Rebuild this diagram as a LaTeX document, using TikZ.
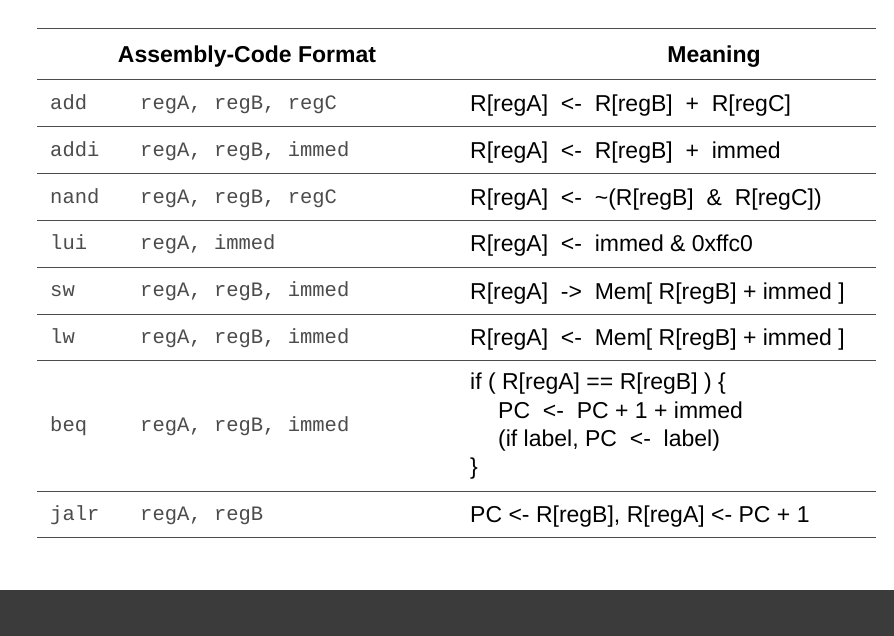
\documentclass[tikz,border=0pt]{standalone}
\usepackage{fontspec}
\setmainfont{Liberation Sans}
\setmonofont{Liberation Mono}
\begin{document}
\begin{tikzpicture}[x=1pt,y=-1pt,
  mono/.style={anchor=base west,font=\fontsize{20.5}{24}\ttfamily,text=black!70,inner sep=0},
  mean/.style={anchor=base west,font=\fontsize{23}{27}\selectfont,inner sep=0},
  hdr/.style={anchor=base,font=\fontsize{23}{27}\bfseries,inner sep=0},
  rule/.style={line width=1pt,draw=black!70}]
\useasboundingbox (0,0) rectangle (894,636);
\fill[white] (0,0) rectangle (894,636);
\fill[black!77] (0,590) rectangle (894,636);
\foreach \y in {29,80,127,174,221,268,314,360,491,537} \draw[rule] (37,\y) -- (876,\y);
\node[hdr] (h1) at (247,63) {Assembly-Code Format};
\node[hdr] (h2) at (714,63) {Meaning};
\foreach \n/\m/\o/\y in {a/add/{regA, regB, regC}/104, b/addi/{regA, regB, immed}/151, c/nand/{regA, regB, regC}/198, d/lui/{regA, immed}/244, e/sw/{regA, regB, immed}/291, f/lw/{regA, regB, immed}/337, g/beq/{regA, regB, immed}/425, h/jalr/{regA, regB}/514}
{ \node[mono] (m\n) at (50,\y+6) {\m}; \node[mono] (o\n) at (140,\y+6) {\o}; }
\node[mean] (ra) at (470,112) {R[regA] \ <- \ R[regB] \ + \ R[regC]};
\node[mean] (rb) at (470,159) {R[regA] \ <- \ R[regB] \ + \ immed};
\node[mean] (rc) at (470,206) {R[regA] \ <- \ \textasciitilde(R[regB] \ \& \ R[regC])};
\node[mean] (rd) at (470,252) {R[regA] \ <- \ immed \& 0xffc0};
\node[mean] (re) at (470,299) {R[regA] \ -> \ Mem[ R[regB] + immed ]};
\node[mean] (rf) at (470,345) {R[regA] \ <- \ Mem[ R[regB] + immed ]};
\node[mean] (rg1) at (470,389) {if ( R[regA] == R[regB] ) \{};
\node[mean] (rg2) at (498,418) {PC \ <- \ PC + 1 + immed};
\node[mean] (rg3) at (498,446) {(if label, PC \ <- \ label)};
\node[mean] (rg4) at (470,474) {\}};
\node[mean] (rh) at (470,522) {PC <- R[regB], R[regA] <- PC + 1};
\end{tikzpicture}
\end{document}
